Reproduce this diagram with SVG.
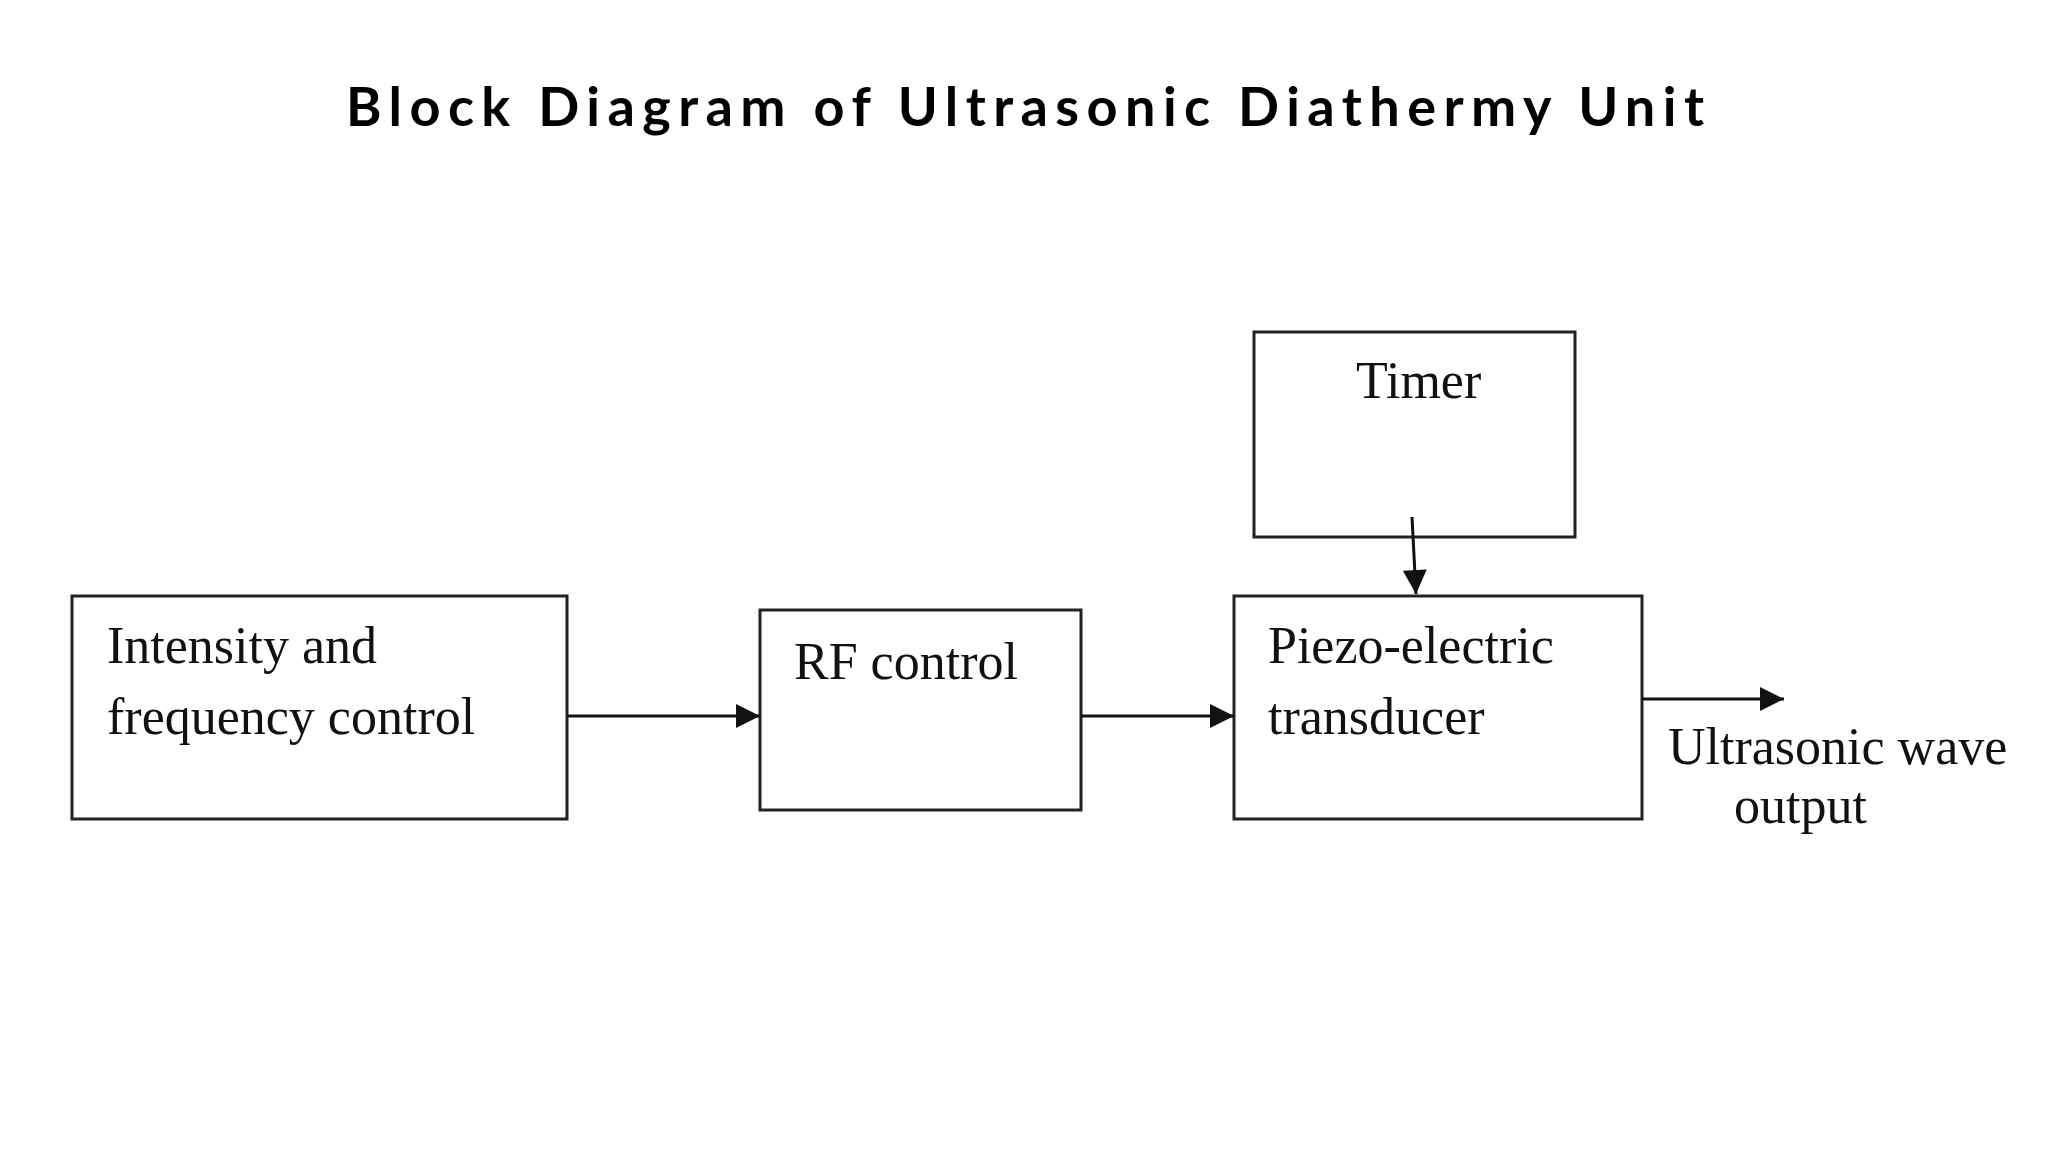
<svg xmlns="http://www.w3.org/2000/svg" width="2048" height="1152" viewBox="0 0 2048 1152">
<defs>
<style>
.box{fill:#fff;stroke:#222;stroke-width:3}
.t{font-family:"Liberation Serif",serif;font-size:52px;fill:#111}
.c{stroke:#111;stroke-width:3;fill:none}
</style>
<marker id="ah" viewBox="0 0 10 10" refX="10" refY="5" markerWidth="28" markerHeight="24" markerUnits="userSpaceOnUse" orient="auto"><path d="M0,0L10,5L0,10z" fill="#111"/></marker>
</defs>
<rect width="2048" height="1152" fill="#fff"/>
<text x="346" y="126" textLength="1358" lengthAdjust="spacing" font-family="Lato, sans-serif" font-weight="bold" font-size="54">Block Diagram of Ultrasonic Diathermy Unit</text>
<g id="intensity"><rect class="box" x="72" y="596" width="495" height="223"/><text class="t" x="107" y="663">Intensity and</text><text class="t" x="107" y="734">frequency control</text></g>
<g id="rf"><rect class="box" x="760" y="610" width="321" height="200"/><text class="t" x="794" y="679">RF control</text></g>
<g id="piezo"><rect class="box" x="1234" y="596" width="408" height="223"/><text class="t" x="1268" y="663">Piezo-electric</text><text class="t" x="1268" y="734">transducer</text></g>
<g id="timer"><rect class="box" x="1254" y="332" width="321" height="205"/><text class="t" x="1356" y="398">Timer</text></g>
<g id="output"><text class="t" x="1668" y="764">Ultrasonic wave</text><text class="t" x="1734" y="823">output</text></g>
<g id="connectors">
<line class="c" x1="567" y1="716" x2="760" y2="716" marker-end="url(#ah)"/>
<line class="c" x1="1081" y1="716" x2="1234" y2="716" marker-end="url(#ah)"/>
<line class="c" x1="1642" y1="699" x2="1784" y2="699" marker-end="url(#ah)"/>
<line class="c" x1="1412" y1="517" x2="1416" y2="594" marker-end="url(#ah)"/>
</g>
</svg>
